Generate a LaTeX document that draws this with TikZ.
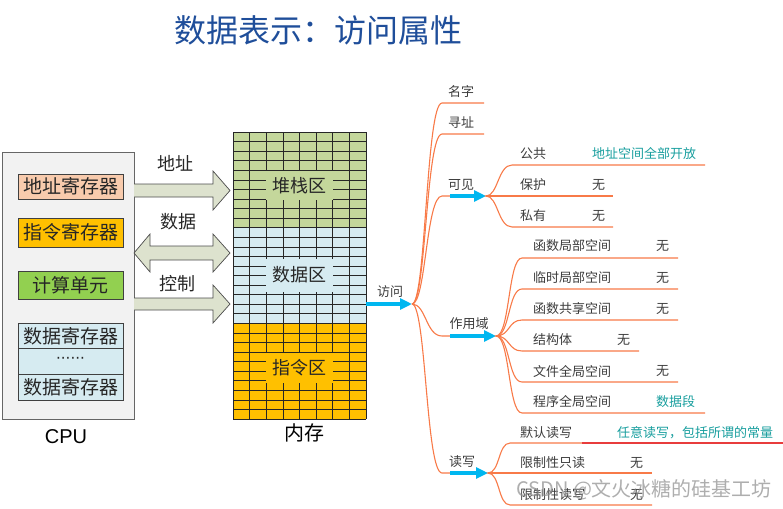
\documentclass[tikz,border=0pt]{standalone}
\usepackage{fontspec}
\setmainfont{Liberation Sans}
\newfontfamily\cjk{Noto Sans CJK SC}
\usetikzlibrary{arrows.meta}
\definecolor{titleblue}{RGB}{31,78,154}
\definecolor{cpugray}{RGB}{242,242,242}
\definecolor{peach}{RGB}{248,203,173}
\definecolor{amber}{RGB}{255,192,0}
\definecolor{leaf}{RGB}{146,208,80}
\definecolor{ice}{RGB}{214,235,241}
\definecolor{sage}{RGB}{196,215,155}
\definecolor{busfill}{RGB}{221,226,206}
\definecolor{branchc}{RGB}{248,122,72}
\definecolor{cyanarr}{RGB}{0,183,240}
\definecolor{tealtxt}{RGB}{24,158,158}
\definecolor{txtgray}{RGB}{60,60,60}
\definecolor{redline}{RGB}{232,60,60}
\begin{document}
\begin{tikzpicture}[x=1pt,y=-1pt,
  reg/.style={draw=black!75, line width=0.6pt, minimum width=105pt, inner sep=0pt, font=\cjk\fontsize{19}{21}\selectfont, text=black!85},
  bus/.style={draw=black!70, line width=0.7pt, fill=busfill, line join=miter},
  buslbl/.style={font=\cjk\fontsize{18}{20}\selectfont, text=black!85},
  gridline/.style={draw=black!85, line width=0.6pt},
  zone/.style={inner sep=0pt, minimum width=66.5pt, font=\cjk\fontsize{18}{20}\selectfont, text=black!85},
  branch/.style={draw=branchc, line width=1.1pt},
  cyarrow/.style={draw=cyanarr, line width=3.5pt, -{Triangle[length=12pt,width=11pt]}},
  lbl/.style={font=\cjk\fontsize{13}{15}\selectfont, text=txtgray, inner sep=0pt},
  val/.style={font=\cjk\fontsize{13}{15}\selectfont, text=tealtxt, inner sep=0pt},
]
\useasboundingbox (0,0) rectangle (783,508);
% title
\node[font=\cjk\fontsize{32}{36}\selectfont, text=titleblue] (title) at (318,30) {数据表示：访问属性};
% CPU
\node[draw=black!60, line width=0.8pt, fill=cpugray, minimum width=132pt, minimum height=267pt, inner sep=0pt] (cpu) at (68,285.5) {};
\node[reg, fill=peach, minimum height=25pt] (r1) at (70.5,186.5) {地址寄存器};
\node[reg, fill=amber, minimum height=29pt] (r2) at (70.5,232.5) {指令寄存器};
\node[reg, fill=leaf, minimum height=28pt] (r3) at (70.5,285) {计算单元};
\node[reg, fill=ice, minimum height=25.67pt] (r4) at (70.5,335.8) {数据寄存器};
\node[reg, fill=ice, minimum height=25.67pt] (r5) at (70.5,361.5) {\raisebox{3pt}{\fontspec{DejaVu Sans}\fontsize{15}{17}\selectfont ······}};
\node[reg, fill=ice, minimum height=25.67pt] (r6) at (70.5,387.2) {数据寄存器};
\node[font=\fontsize{20}{24}\selectfont] (cpulbl) at (66,437) {CPU};
% buses
\draw[bus] (134,184) -- (213,184) -- (213,171) -- (230,190.5) -- (213,210) -- (213,197) -- (134,197);
\draw[bus] (134,253) -- (150,234) -- (150,246) -- (213,246) -- (213,234) -- (230,253) -- (213,272) -- (213,260) -- (150,260) -- (150,272) -- cycle;
\draw[bus] (134,298) -- (213,298) -- (213,285) -- (230,304) -- (213,323) -- (213,310) -- (134,310);
\node[buslbl] (l1) at (175,163) {地址};
\node[buslbl] (l2) at (178,222) {数据};
\node[buslbl] (l3) at (177,284) {控制};
% memory
\fill[sage] (233,132) rectangle (366,227.7);
\fill[ice] (233,227.7) rectangle (366,323.3);
\fill[amber] (233,323.3) rectangle (366,419);
\foreach \i in {0,...,30} \draw[gridline] (233,{132+\i*287/30}) -- (366,{132+\i*287/30});
\foreach \j in {0,...,8} \draw[gridline] ({233+\j*133/8},132) -- ({233+\j*133/8},419);
\node[zone, fill=sage, minimum height=29pt] (z1) at (299.5,185.5) {堆栈区};
\node[zone, fill=ice, minimum height=33pt] (z2) at (299.5,275) {数据区};
\node[zone, fill=amber, minimum height=30pt] (z3) at (299.5,368) {指令区};
\node[inner sep=0pt, minimum width=133pt, minimum height=287pt] (mem) at (299.5,275.5) {};
\node[font=\cjk\fontsize{20}{22}\selectfont] (memlbl) at (304,433) {内存};
% mind map
\coordinate (root) at (412,304);
\coordinate (kj) at (486,196);
\coordinate (zy) at (496,336);
\coordinate (dx) at (488,473);
\draw[cyarrow] (mem.east |- root) -- (root);
\node[lbl] (fw) at (390,292) {访问};
\draw[branch] (root) .. controls (426,304) and (426,103) .. (442,103) -- (484,103);
\draw[branch] (root) .. controls (426,304) and (426,134) .. (442,134) -- (484,134);
\draw[branch] (root) .. controls (426,304) and (426,196) .. (442,196) -- (kj);
\draw[branch] (root) .. controls (426,304) and (426,336) .. (442,336) -- (zy);
\draw[branch] (root) .. controls (426,304) and (426,473) .. (442,473) -- (dx);
\node[lbl] (mz) at (461,92) {名字};
\node[lbl] (xz) at (461,123) {寻址};
\node[lbl] (kjl) at (461,185) {可见};
\node[lbl] (zyl) at (469,324) {作用域};
\node[lbl] (dxl) at (462,462) {读写};
\draw[cyarrow] (450,196) -- (kj);
\draw[cyarrow] (450,336) -- (zy);
\draw[cyarrow] (450,473) -- (dx);
% visibility
\draw[branch] (kj) .. controls (498,196) and (498,165) .. (512,165) -- (705,165);
\draw[branch] (kj) -- (613,196);
\draw[branch] (kj) .. controls (498,196) and (498,227) .. (512,227) -- (613,227);
\node[lbl, anchor=west] (gg) at (520,154) {公共};
\node[val, anchor=west] (ggv) at (592,154) {地址空间全部开放};
\node[lbl, anchor=west] (bh) at (520,185) {保护};
\node[lbl, anchor=west] (bhv) at (592,185) {无};
\node[lbl, anchor=west] (sy) at (520,216) {私有};
\node[lbl, anchor=west] (syv) at (592,216) {无};
% scope
\foreach \yy/\ee in {258/678,289/678,320/678,351/639,382/678,413/705}
  \draw[branch] (zy) .. controls (510,336) and (508,\yy) .. (522,\yy) -- (\ee,\yy);
\node[lbl, anchor=west] (s1) at (533,246) {函数局部空间};
\node[lbl, anchor=west] (s1v) at (656,246) {无};
\node[lbl, anchor=west] (s2) at (533,278) {临时局部空间};
\node[lbl, anchor=west] (s2v) at (656,278) {无};
\node[lbl, anchor=west] (s3) at (533,309) {函数共享空间};
\node[lbl, anchor=west] (s3v) at (656,309) {无};
\node[lbl, anchor=west] (s4) at (533,340) {结构体};
\node[lbl, anchor=west] (s4v) at (617,340) {无};
\node[lbl, anchor=west] (s5) at (533,371) {文件全局空间};
\node[lbl, anchor=west] (s5v) at (656,371) {无};
\node[lbl, anchor=west] (s6) at (533,402) {程序全局空间};
\node[val, anchor=west] (s6v) at (656,402) {数据段};
% read/write
\draw[branch] (dx) .. controls (500,473) and (498,443) .. (510,443) -- (582,443);
\draw[draw=redline, line width=1.1pt] (582,443) -- (783,443);
\draw[branch] (dx) -- (652,473);
\draw[branch] (dx) .. controls (500,473) and (498,505) .. (510,505) -- (652,505);
\node[lbl, anchor=west] (w1) at (520,433) {默认读写};
\node[val, anchor=west] (w1v) at (617,433) {任意读写，包括所谓的常量};
\node[lbl, anchor=west] (w2) at (520,463) {限制性只读};
\node[lbl, anchor=west] (w2v) at (630,463) {无};
\node[lbl, anchor=west] (w3) at (520,495) {限制性读写};
\node[lbl, anchor=west] (w3v) at (630,495) {无};
% watermark
\node[font=\cjk\fontsize{20}{22}\selectfont, text=black!45, opacity=0.7, anchor=west, inner sep=0pt] (wm) at (516,490) {CSDN @文火冰糖的硅基工坊};
\end{tikzpicture}
\end{document}
